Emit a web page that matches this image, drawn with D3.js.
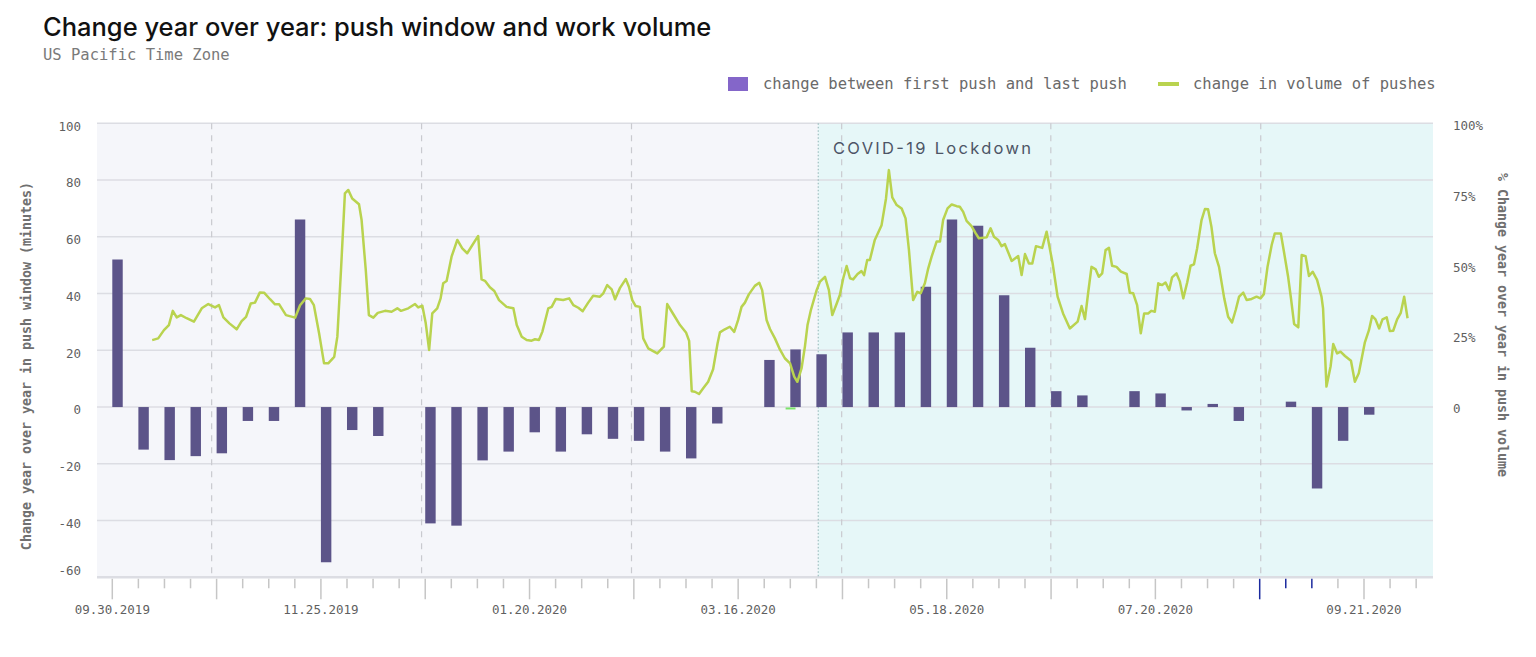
<!DOCTYPE html>
<html>
<head>
<meta charset="utf-8">
<script src="https://cdn.jsdelivr.net/npm/d3@7"></script>
<style>
  body { margin: 0; background: #fff; }
  .mono { font-family: "DejaVu Sans Mono", "Liberation Mono", monospace; }
</style>
</head>
<body>
<svg id="chart" width="1536" height="657"></svg>
<script>
// x axis: one tick per week, label every 8th
const weekCount = 51;
const tickLabels = ["09.30.2019", "11.25.2019", "01.20.2020", "03.16.2020", "05.18.2020", "07.20.2020", "09.21.2020"];
const labelWeeks = [0, 8, 16, 24, 32, 40, 48];
const highlightWeeks = [44, 45, 46];
const gridWeeks = [3.81, 11.86, 19.91, 27.97, 35.99, 44.04];
const lockdownStart = 27.07;

// change between first push and last push (minutes), null = no bar
const pushWindow = [
  52, -15, -18.7, -17.3, -16.3, -4.9, -4.9, 66.1, -54.7, -8.1,
  -10.2, null, -41, -41.8, -18.8, -15.7, -8.9, -15.7, -9.6, -11.2,
  -11.9, -15.7, -18.1, -5.8, null, 16.6, 20.3, 18.6, 26.3, 26.3,
  26.3, 42.4, 66.1, 63.9, 39.4, 20.9, 5.6, 4.1, null, 5.6,
  4.8, -1.2, 1.1, -4.9, null, 1.9, -28.7, -11.9, -2.7, null, null
];

// change in volume of pushes (%), [week, value]
const pushVolume = [
  [1.53,23.6],[1.76,24.2],[1.98,27.1],[2.17,28.9],[2.32,33.9],[2.47,31.6],[2.63,32.4],[2.85,31.3],
  [3.13,30.1],[3.43,34.8],[3.68,36.3],[3.94,35.1],[4.09,35.9],[4.26,31.6],[4.49,29.5],[4.77,27.4],
  [4.96,30.3],[5.13,31.8],[5.31,36.5],[5.47,36.8],[5.66,40.4],[5.82,40.3],[6.05,38],[6.24,36.2],
  [6.40,36.2],[6.66,32.4],[7.01,31.5],[7.20,35.9],[7.42,38.3],[7.58,38.1],[7.73,35.9],[7.93,26],
  [8.12,15.4],[8.28,15.4],[8.51,17.7],[8.63,24.8],[8.77,48.3],[8.92,75.3],[9.05,76.5],[9.20,73.5],
  [9.46,71.5],[9.56,65.9],[9.72,48.3],[9.84,32.4],[10.01,31.5],[10.18,33.2],[10.46,33.9],[10.71,33.6],
  [10.93,34.8],[11.07,33.9],[11.35,34.8],[11.61,36.3],[11.73,35.1],[11.89,35.7],[12.02,29.5],[12.15,20.1],
  [12.27,33],[12.46,34.8],[12.59,38.3],[12.69,43.6],[12.82,44.4],[13.01,53],[13.23,58.9],[13.42,55.9],
  [13.61,54.2],[14.03,60.3],[14.16,45],[14.29,44.5],[14.48,42.2],[14.65,40.9],[14.83,37.7],[15.12,35.3],
  [15.38,34.8],[15.51,28.9],[15.70,24.8],[15.89,23.6],[16.08,23.4],[16.21,23.9],[16.36,23.6],[16.49,26.5],
  [16.72,34.8],[16.85,35.3],[17.01,38.1],[17.29,37.7],[17.52,38.3],[17.68,35.9],[17.87,35],[18.04,33.8],
  [18.25,36.8],[18.44,39.2],[18.70,38.9],[18.83,40.1],[18.98,43],[19.15,41.5],[19.28,38],[19.47,42],
  [19.69,45.1],[19.81,42.4],[19.94,37.7],[20.07,35.6],[20.23,35.3],[20.36,24.2],[20.55,20.7],[20.74,19.7],
  [20.90,18.9],[21.15,21.3],[21.28,36.3],[21.51,32.8],[21.77,28.9],[22.00,26.3],[22.12,23.3],[22.22,5.6],
  [22.34,5.4],[22.50,4.6],[22.66,6.6],[22.85,8.9],[23.04,13.3],[23.21,22.4],[23.30,26.3],[23.49,27.4],
  [23.68,28.3],[23.85,26.5],[24.00,30.7],[24.13,35.3],[24.26,36.8],[24.41,39.7],[24.64,42.7],[24.81,43.8],
  [24.92,41.2],[25.09,30.7],[25.22,27.5],[25.41,24.2],[25.60,20.3],[25.79,17.2],[25.99,15.4],[26.15,10.7],
  [26.27,8.9],[26.43,13.6],[26.56,21.3],[26.66,28.9],[26.79,34.2],[27.01,41.2],[27.14,44.2],[27.33,45.9],
  [27.48,41.2],[27.61,32.4],[27.78,36.5],[27.90,39.5],[28.03,45.4],[28.16,49.7],[28.29,45.4],[28.41,45],
  [28.58,46.9],[28.73,47.9],[28.83,46.5],[28.95,51.8],[29.05,51.8],[29.24,58.9],[29.50,64.1],[29.67,73.5],
  [29.78,83.5],[29.91,73.9],[30.08,71.2],[30.27,70],[30.42,66.5],[30.55,55.3],[30.71,37.7],[30.87,40.6],
  [31.00,40.1],[31.16,43.6],[31.29,48.9],[31.42,53],[31.61,58.3],[31.74,58.3],[31.86,65.9],[32.03,70],
  [32.19,71.4],[32.38,70.8],[32.50,70.6],[32.63,68.8],[32.76,65.6],[32.95,63.8],[33.11,61.2],[33.23,59.5],
  [33.53,59.8],[33.68,63],[33.81,60],[33.97,58.9],[34.10,56.7],[34.23,57.4],[34.49,51.5],[34.74,53.2],
  [34.87,46.5],[35.00,53.9],[35.15,50.6],[35.28,50.6],[35.42,56.7],[35.66,56.1],[35.83,61.8],[36.06,50.6],
  [36.25,38.9],[36.46,33],[36.72,27.7],[37.02,30.1],[37.17,35.6],[37.30,31],[37.42,40.1],[37.55,49.4],
  [37.71,48.5],[37.83,45.9],[37.96,47.1],[38.09,55.3],[38.22,56.1],[38.34,49.8],[38.51,49.4],[38.68,47.7],
  [38.90,46.9],[39.02,40.3],[39.15,40.1],[39.30,35.9],[39.44,26],[39.57,33],[39.72,33],[39.85,33.9],
  [39.98,33.6],[40.11,43.6],[40.26,43],[40.39,43.9],[40.53,41.2],[40.64,45.7],[40.81,47.1],[40.94,44.2],
  [41.07,38.3],[41.22,43.9],[41.35,49.8],[41.48,50.3],[41.60,55.9],[41.77,65.9],[41.90,69.8],[42.02,69.7],
  [42.15,63.5],[42.28,54.2],[42.44,49.4],[42.64,38.3],[42.79,31.8],[42.94,29.8],[43.08,34.2],[43.21,38.9],
  [43.37,40.3],[43.50,37.7],[43.69,38.1],[43.88,38.9],[44.03,38.3],[44.16,39.8],[44.30,49.4],[44.46,57.1],
  [44.58,61.2],[44.81,61.2],[44.94,54.2],[45.09,45.9],[45.20,38.3],[45.32,29.3],[45.48,28.1],[45.61,53.6],
  [45.76,53.2],[45.89,46.2],[46.03,47.7],[46.20,44.8],[46.37,38.9],[46.43,34.8],[46.56,7.2],[46.72,14.4],
  [46.82,22.2],[46.97,18.9],[47.10,19.5],[47.27,18],[47.50,16.3],[47.65,8.9],[47.80,11.9],[48.03,22.7],
  [48.19,27.1],[48.31,32.1],[48.44,30.9],[48.58,27.7],[48.71,30.9],[48.87,31.6],[48.99,26.8],[49.12,26.9],
  [49.27,30.9],[49.41,33.2],[49.54,38.9],[49.67,31.3]
];
// short flat stroke at zero near the 03.16.2020 bars
const zeroStroke = [[25.82, -0.5], [26.20, -0.5]];

const leftTicks = [100, 80, 60, 40, 20, 0, -20, -40, -60];
const rightTicks = [0, 0.25, 0.5, 0.75, 1];

const colors = {
  bar: "#5c5489",
  barKey: "#8466c9",
  line: "#b9d34f",
  bgBefore: "#f5f6fa",
  bgAfter: "#e6f7f8",
  grid: "#dcdde3",
  text: "#5f5f5f"
};

const svg = d3.select("#chart");
const plot = {left: 97, right: 1433, top: 123.3, bottom: 577.3};

const x = d3.scaleLinear().domain([0, 48]).range([112.3, 1364]);
const y = d3.scaleLinear().domain([-60, 100]).range([plot.bottom, plot.top]);
const yRight = d3.scaleLinear().domain([-0.6, 1]).range([plot.bottom, plot.top]);

svg.append("rect").attr("width", 1536).attr("height", 657).attr("fill", "#fff");

// title
svg.append("text")
  .attr("x", 43).attr("y", 36)
  .style("font-family", "Inter, 'Noto Sans', sans-serif")
  .style("font-weight", 500)
  .style("font-size", "25.5px")
  .attr("fill", "#111")
  .text("Change year over year: push window and work volume");

svg.append("text")
  .attr("class", "mono")
  .attr("x", 43).attr("y", 60)
  .style("font-size", "15.5px")
  .attr("fill", "#7a7a7a")
  .text("US Pacific Time Zone");

// legend
const legend = svg.append("g").attr("class", "mono").style("font-size", "15.5px").attr("fill", "#6a6a6a");
legend.append("rect").attr("x", 728).attr("y", 77).attr("width", 20).attr("height", 14).attr("fill", colors.barKey);
legend.append("text").attr("x", 763).attr("y", 88.5).text("change between first push and last push");
legend.append("rect").attr("x", 1158).attr("y", 82).attr("width", 21).attr("height", 4).attr("fill", colors.line);
legend.append("text").attr("x", 1193).attr("y", 88.5).text("change in volume of pushes");

// backgrounds
svg.append("rect")
  .attr("x", plot.left).attr("y", plot.top)
  .attr("width", x(lockdownStart) - plot.left).attr("height", plot.bottom - plot.top)
  .attr("fill", colors.bgBefore);
svg.append("rect")
  .attr("x", x(lockdownStart)).attr("y", plot.top)
  .attr("width", plot.right - x(lockdownStart)).attr("height", plot.bottom - plot.top)
  .attr("fill", colors.bgAfter);

// horizontal grid
svg.append("g").selectAll("line")
  .data(leftTicks)
  .join("line")
  .attr("x1", plot.left).attr("x2", plot.right)
  .attr("y1", d => y(d)).attr("y2", d => y(d))
  .attr("stroke", colors.grid)
  .attr("stroke-width", d => d === -60 ? 2.5 : 1.5);

// vertical dashed grid
svg.append("g").selectAll("line")
  .data(gridWeeks)
  .join("line")
  .attr("x1", d => x(d)).attr("x2", d => x(d))
  .attr("y1", plot.top).attr("y2", plot.bottom)
  .attr("stroke", "#c9cacf")
  .attr("stroke-width", 1.2)
  .attr("stroke-dasharray", "6,6");

// lockdown boundary
svg.append("line")
  .attr("x1", x(lockdownStart)).attr("x2", x(lockdownStart))
  .attr("y1", plot.top).attr("y2", plot.bottom)
  .attr("stroke", "#8fb3b5")
  .attr("stroke-width", 1)
  .attr("stroke-dasharray", "1.5,2");

svg.append("text")
  .attr("x", 833).attr("y", 154)
  .style("font-family", "Inter, 'Noto Sans', sans-serif")
  .style("font-size", "16.5px")
  .attr("textLength", 198)
  .attr("lengthAdjust", "spacing")
  .attr("fill", "#4d5566")
  .text("COVID-19 Lockdown");

// bars
const barW = (x(1) - x(0)) * 0.4;
svg.append("g").selectAll("rect")
  .data(pushWindow.map((v, i) => ({week: i, value: v})).filter(d => d.value !== null))
  .join("rect")
  .attr("x", d => x(d.week))
  .attr("width", barW)
  .attr("y", d => y(Math.max(0, d.value)))
  .attr("height", d => Math.abs(y(d.value) - y(0)))
  .attr("fill", colors.bar);

svg.append("path")
  .datum(zeroStroke)
  .attr("d", d3.line().x(d => x(d[0])).y(d => y(d[1])))
  .attr("stroke", "#7be36a")
  .attr("stroke-width", 2)
  .attr("fill", "none");

// volume line
const line = d3.line()
  .x(d => x(d[0]))
  .y(d => yRight(d[1] / 100));

svg.append("path")
  .datum(pushVolume)
  .attr("d", line)
  .attr("fill", "none")
  .attr("stroke", colors.line)
  .attr("stroke-width", 2.5)
  .attr("stroke-linejoin", "round");

// x axis ticks
const weeks = d3.range(weekCount);
svg.append("g").selectAll("line")
  .data(weeks)
  .join("line")
  .attr("x1", d => x(d)).attr("x2", d => x(d))
  .attr("y1", plot.bottom + 1.5)
  .attr("y2", d => plot.bottom + (d % 4 === 0 ? 22 : 11))
  .attr("stroke", d => highlightWeeks.includes(d) ? "#1b2a9e" : "#c6c6c6")
  .attr("stroke-width", 1.5);

svg.append("g").attr("class", "mono")
  .style("font-size", "12.5px")
  .attr("fill", colors.text)
  .selectAll("text")
  .data(labelWeeks)
  .join("text")
  .attr("x", d => x(d))
  .attr("y", 614)
  .attr("text-anchor", "middle")
  .text((d, i) => tickLabels[i]);

// left axis
svg.append("g").attr("class", "mono")
  .style("font-size", "12.5px")
  .attr("fill", colors.text)
  .selectAll("text")
  .data(leftTicks)
  .join("text")
  .attr("x", 81)
  .attr("y", d => Math.min(y(d) + 3, 571) )
  .attr("dy", "0.35em")
  .attr("text-anchor", "end")
  .text(d => d);

// right axis
const pct = d3.format(".0%");
svg.append("g").attr("class", "mono")
  .style("font-size", "12.5px")
  .attr("fill", colors.text)
  .selectAll("text")
  .data(rightTicks)
  .join("text")
  .attr("x", 1453)
  .attr("y", d => yRight(d) + 2)
  .attr("dy", "0.35em")
  .text(d => d === 0 ? "0" : pct(d));

// axis titles
svg.append("text").attr("class", "mono")
  .attr("transform", "translate(26,366) rotate(-90)")
  .attr("text-anchor", "middle")
  .attr("dy", "0.35em")
  .style("font-size", "13.3px")
  .style("font-weight", "bold")
  .attr("fill", "#707070")
  .text("Change year over year in push window (minutes)");

svg.append("text").attr("class", "mono")
  .attr("transform", "translate(1503,325) rotate(90)")
  .attr("text-anchor", "middle")
  .attr("dy", "0.35em")
  .style("font-size", "13.3px")
  .style("font-weight", "bold")
  .attr("fill", "#707070")
  .text("% Change year over year in push volume");
</script>
</body>
</html>
